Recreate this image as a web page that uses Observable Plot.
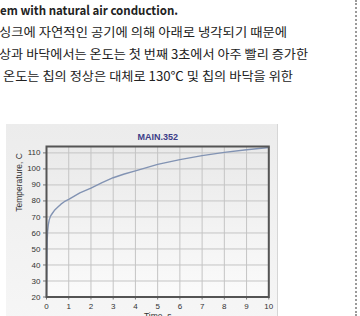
<!DOCTYPE html>
<html>
<head>
<meta charset="utf-8">
<script src="https://cdn.jsdelivr.net/npm/d3@7"></script>
<script src="https://cdn.jsdelivr.net/npm/@observablehq/plot@0.6"></script>
<style>
  html, body { margin: 0; padding: 0; width: 360px; height: 316px; overflow: hidden; background: #fff; }
  .line { position: absolute; white-space: pre; font-family: "Noto Sans CJK KR", "Noto Sans", sans-serif; font-size: 12.5px; color: #222; line-height: 16px; transform-origin: left center; }
  #dots { position: absolute; left: 355px; top: 0; width: 0; height: 316px; border-left: 2px dotted #9a9a9a; }
  #panel { position: absolute; left: 6px; top: 124px; width: 271px; height: 200px; background: linear-gradient(#ececec, #f6f6f6); border-right: 1px solid #d6d6d6; }
  #panel svg { position: absolute; left: 0; top: 0; }
</style>
</head>
<body>
<div id="text"></div>
<div id="dots"></div>
<div id="panel"></div>
<script>
// ---- data ----
const textLines = [
  "em with natural air conduction.",
  "싱크에 자연적인 공기에 의해 아래로 냉각되기 때문에",
  "상과 바닥에서는 온도는 첫 번째 3초에서 아주 빨리 증가한",
  " 온도는 칩의 정상은 대체로 130℃ 및 칩의 바닥을 위한"
];
const chartTitle = "MAIN.352";
const xLabel = "Time, s";
const yLabel = "Temperature, C";
const xTicks = [0, 1, 2, 3, 4, 5, 6, 7, 8, 9, 10];
const yTicks = [20, 30, 40, 50, 60, 70, 80, 90, 100, 110];
const time = [0, 0.01, 0.02, 0.03, 0.05, 0.08, 0.12, 0.18, 0.25, 0.35, 0.5, 0.65, 0.8, 1, 1.5, 2, 2.5, 3, 3.5, 4, 5, 6, 7, 8, 9, 10];
const temperature = [20, 32, 45, 55, 61, 65, 68, 70.5, 72, 74, 76, 78, 79.5, 81, 85, 88, 91.5, 94.5, 96.8, 98.8, 102.8, 105.8, 108.3, 110.3, 112, 113.4];

// ---- text block ----
const lineStyle = [
  {left: 0, top: 2, right: 178, bold: true},
  {left: -1, top: 24, right: 287},
  {left: -1, top: 46, right: 308},
  {left: 0, top: 68, right: 293}
];
const textDiv = document.getElementById("text");
textLines.forEach((s, i) => {
  const st = lineStyle[i];
  const el = document.createElement("div");
  el.className = "line";
  el.textContent = s;
  el.style.left = st.left + "px";
  el.style.top = st.top + "px";
  if (st.bold) el.style.fontWeight = "bold";
  textDiv.appendChild(el);
  const w = el.getBoundingClientRect().width;
  const target = st.right - st.left;
  if (w > 0) el.style.transform = `scaleX(${target / w})`;
});

// ---- chart ----
const series = time.map((t, i) => ({t, v: temperature[i]}));
const svg = Plot.plot({
  width: 271,
  height: 200,
  marginLeft: 40,
  marginRight: 8.7,
  marginTop: 22,
  marginBottom: 27.5,
  style: {background: "transparent", fontFamily: "'Liberation Sans', Arial, sans-serif", fontSize: "8px", color: "#333", overflow: "visible"},
  x: {domain: [0, 10], label: null},
  y: {domain: [20, 114], label: null},
  marks: [
    Plot.frame({fill: "url(#plotbg)", stroke: null}),
    Plot.gridX(xTicks, {stroke: "#c4c4c4", strokeOpacity: 1}),
    Plot.gridY(yTicks, {stroke: "#c4c4c4", strokeOpacity: 1}),
    Plot.axisX(xTicks, {tickSize: 3, tickPadding: 3, stroke: "#777", fill: "#333", label: null}),
    Plot.axisY(yTicks, {tickSize: 3, tickPadding: 3, stroke: "#777", fill: "#333", label: null}),
    Plot.line(series, {x: "t", y: "v", stroke: "#8293b3", strokeWidth: 1.4}),
    Plot.frame({stroke: "#555", strokeWidth: 2}),
    Plot.text([chartTitle], {frameAnchor: "top", lineAnchor: "middle", dy: -9.3, fill: "#3d3d88", fontWeight: "bold", fontSize: 9}),
    Plot.text([xLabel], {frameAnchor: "bottom", lineAnchor: "middle", dy: 19, fill: "#333", fontSize: 8.5}),
    Plot.text([yLabel], {frameAnchor: "left", lineAnchor: "middle", rotate: -90, dx: -27.7, dy: -10, fill: "#333", fontSize: 8.5})
  ]
});
const ns = "http://www.w3.org/2000/svg";
const defs = document.createElementNS(ns, "defs");
defs.innerHTML = '<linearGradient id="plotbg" x1="0" y1="0" x2="0" y2="1"><stop offset="0" stop-color="#e9e9e9"/><stop offset="1" stop-color="#fbfbfb"/></linearGradient>';
svg.insertBefore(defs, svg.firstChild);
document.getElementById("panel").appendChild(svg);
</script>
</body>
</html>
